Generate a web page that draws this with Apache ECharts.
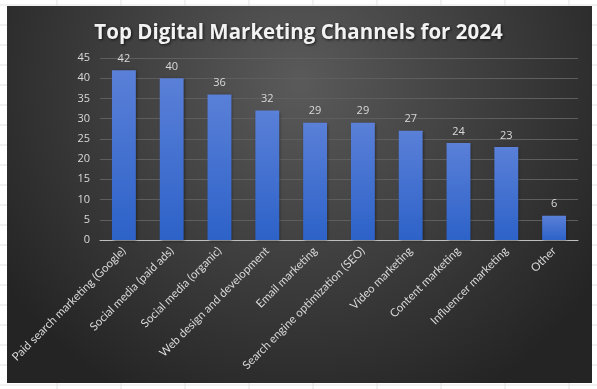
<!DOCTYPE html>
<html><head><meta charset="utf-8">
<script src="https://cdn.jsdelivr.net/npm/echarts@6/dist/echarts.min.js"></script>
<style>html,body{margin:0;padding:0;background:#fff;}#c{width:597px;height:389px;}</style>
</head><body><div id="c"></div>
<script>
const categories = ["Paid search marketing (Google)","Social media (paid ads)","Social media (organic)","Web design and development","Email marketing","Search engine optimization (SEO)","Video marketing","Content marketing","Influencer marketing","Other"];
const values = [42,40,36,32,29,29,27,24,23,6];
const yTicks = [0,5,10,15,20,25,30,35,40,45];

const chart = echarts.init(document.getElementById('c'));
const deco = [];
for (let x = 57; x < 597; x += 64) deco.push({type:'line', silent:true, z:-10, shape:{x1:x,y1:0,x2:x,y2:389}, style:{stroke:'#e3e3e3', lineWidth:1}});
for (let y = 5; y < 389; y += 20) deco.push({type:'line', silent:true, z:-10, shape:{x1:0,y1:y,x2:597,y2:y}, style:{stroke:'#e3e3e3', lineWidth:1}});
deco.push({type:'rect', silent:true, z:-5, shape:{x:7,y:6,width:585,height:377},
  style:{fill:{type:'radial', x:0.5, y:0.2, r:0.95, colorStops:[{offset:0,color:'#5a5a5a'},{offset:1,color:'#242424'}]}}});

chart.setOption({
  animation:false,
  graphic: deco,
  title:{text:'Top Digital Marketing Channels for 2024', left:'center', top:18,
    textStyle:{color:'#f2f2f2', fontSize:20.5, fontWeight:'bold', fontFamily:'Open Sans', textShadowColor:'rgba(0,0,0,0.7)', textShadowBlur:3, textShadowOffsetX:1, textShadowOffsetY:1}},
  grid:{left:100, right:19, top:58, bottom:149, containLabel:false},
  xAxis:{type:'category', data:categories,
    axisLine:{lineStyle:{color:'#bfbfbf', width:1}}, axisTick:{show:false},
    axisLabel:{rotate:45, color:'#d9d9d9', fontSize:11.5, fontFamily:'Lato', margin:9, interval:0}},
  yAxis:{type:'value', min:0, max:45, interval:5,
    axisLine:{show:false}, axisTick:{show:false},
    axisLabel:{color:'#d9d9d9', fontSize:11, fontFamily:'Open Sans', margin:10, formatter: v => yTicks.includes(v) ? String(v) : ''},
    splitLine:{lineStyle:{color:'#5e5e5e', width:1}}},
  series:[{type:'bar', data:values, barWidth:'50%',
    itemStyle:{color:{type:'linear', x:0, y:0, x2:0, y2:1, colorStops:[{offset:0,color:'#5a80d8'},{offset:1,color:'#2d62c8'}]},
      shadowColor:'rgba(0,0,0,0.5)', shadowBlur:3, shadowOffsetX:1, shadowOffsetY:1},
    label:{show:true, position:'top', color:'#d9d9d9', fontSize:11, fontFamily:'Open Sans', distance:6}}]
});
</script></body></html>
